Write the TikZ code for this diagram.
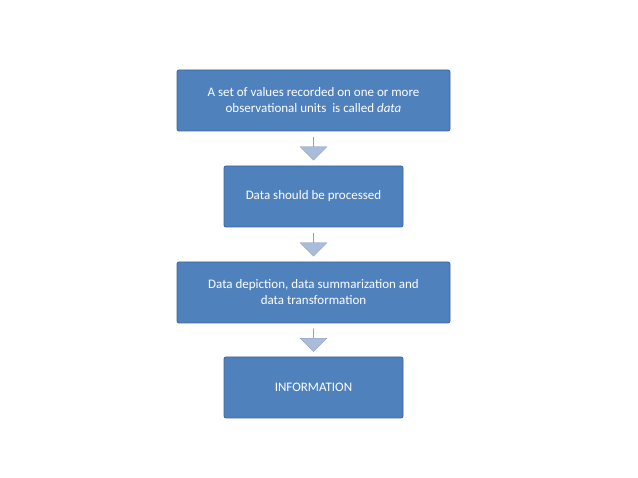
\documentclass[tikz,border=0pt]{standalone}
\usepackage{fontspec}
\setmainfont{Carlito}
\usetikzlibrary{shapes.arrows,calc}
\definecolor{boxblue}{HTML}{4F81BD}
\definecolor{boxedge}{HTML}{3B6595}
\definecolor{arrblue}{HTML}{A9BCDB}
\tikzset{
  box/.style={draw=boxedge, line width=0.8pt, fill=boxblue, rounded corners=2pt, text=white, align=center, font=\fontsize{13}{16}\selectfont, inner sep=0pt},
  downarrow/.style={single arrow, draw=arrblue!85!black, line width=0.3pt, fill=arrblue, shape border rotate=270, minimum width=27pt, minimum height=23pt, single arrow head extend=6pt, inner sep=0pt}
}
\begin{document}
\begin{tikzpicture}[x=1pt,y=-1pt]
\useasboundingbox (0,0) rectangle (638,478);
\node[box, minimum width=273pt, minimum height=61pt] (b1) at (313.5,100.5) {A set of values recorded on one or more\\observational units\ \ is called \textit{data}};
\node[box, minimum width=179pt, minimum height=61pt] (b2) at (313.5,196.5) {Data should be processed};
\node[box, minimum width=273pt, minimum height=61pt] (b3) at (313.5,292.5) {Data depiction, data summarization and\\data transformation};
\node[box, minimum width=179pt, minimum height=61pt] (b4) at (313.5,387.5) {INFORMATION};
\node[downarrow] (a1) at ($(b1.south)!0.5!(b2.north)$) {};
\node[downarrow] (a2) at ($(b2.south)!0.5!(b3.north)$) {};
\node[downarrow] (a3) at ($(b3.south)!0.5!(b4.north)$) {};
\end{tikzpicture}
\end{document}
